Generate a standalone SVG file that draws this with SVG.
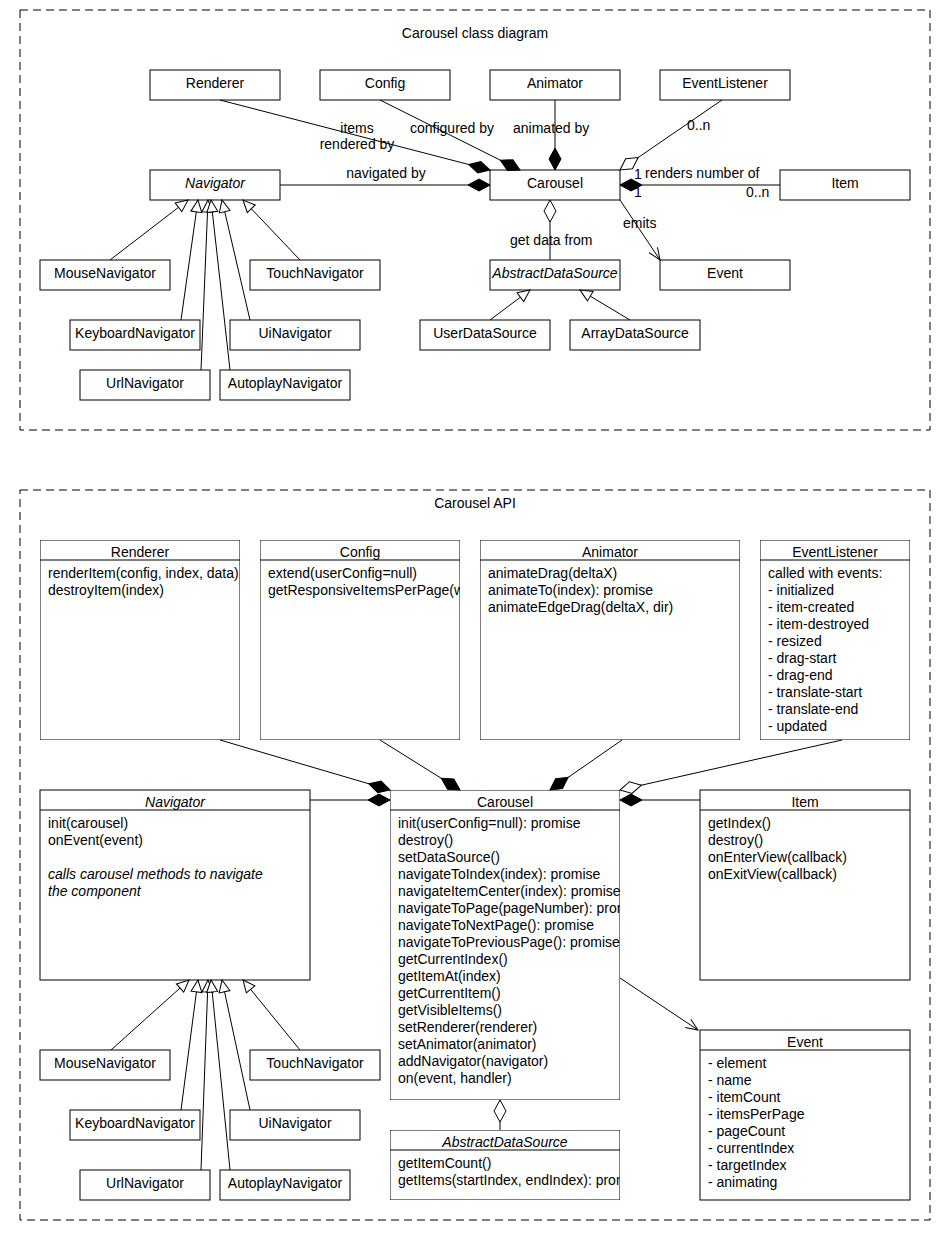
<svg xmlns="http://www.w3.org/2000/svg" width="950" height="1240" viewBox="0 0 950 1240">
<style>
text{font-family:"Liberation Sans",Arial,sans-serif;font-size:14px;fill:#000}
.c{text-anchor:middle}
.i{font-style:italic}
.box{fill:#fff;stroke:#000;stroke-width:1}
.frame{fill:none;stroke:#000;stroke-width:1;stroke-dasharray:8 5}
.ln{fill:none;stroke:#000;stroke-width:1}
.sep{stroke:#000;stroke-width:1}
</style>
<defs>
<marker id="dF" viewBox="-1 -1 24 14" markerWidth="24" markerHeight="14" refX="22" refY="6" orient="auto" markerUnits="userSpaceOnUse"><path d="M0,6 L11,0 L22,6 L11,12 Z" fill="#000" stroke="#000" stroke-width="1"/></marker>
<marker id="dH" viewBox="-1 -1 24 14" markerWidth="24" markerHeight="14" refX="22" refY="6" orient="auto" markerUnits="userSpaceOnUse"><path d="M0,6 L11,0 L22,6 L11,12 Z" fill="#fff" stroke="#000" stroke-width="1"/></marker>
<marker id="tri" viewBox="-1 -1 14 13" markerWidth="14" markerHeight="13" refX="12" refY="5.5" orient="auto" markerUnits="userSpaceOnUse"><path d="M0,0 L12,5.5 L0,11 Z" fill="#fff" stroke="#000" stroke-width="1"/></marker>
<marker id="arr" viewBox="-1 -1 14 12" markerWidth="14" markerHeight="12" refX="12" refY="5" orient="auto" markerUnits="userSpaceOnUse"><path d="M0,0 L12,5 L0,10" fill="none" stroke="#000" stroke-width="1"/></marker>
<clipPath id="cRen"><rect x="40" y="540" width="200" height="200"/></clipPath>
<clipPath id="cCfg"><rect x="260" y="540" width="200" height="200"/></clipPath>
<clipPath id="cAni"><rect x="480" y="540" width="260" height="200"/></clipPath>
<clipPath id="cEvl"><rect x="760" y="540" width="150" height="200"/></clipPath>
<clipPath id="cCar"><rect x="390" y="790" width="230" height="310"/></clipPath>
<clipPath id="cAds"><rect x="390" y="1130" width="230" height="70"/></clipPath>
</defs>

<!-- frames -->
<rect class="frame" x="20" y="10" width="910" height="420"/>
<text class="c" x="475" y="38">Carousel class diagram</text>
<rect class="frame" x="20" y="490" width="910" height="730"/>
<text class="c" x="475" y="508">Carousel API</text>

<!-- ===== Top diagram nodes ===== -->
<g id="t-renderer"><rect class="box" x="150" y="70" width="130" height="30"/><text class="c" x="215" y="88">Renderer</text></g>
<g id="t-config"><rect class="box" x="320" y="70" width="130" height="30"/><text class="c" x="385" y="88">Config</text></g>
<g id="t-animator"><rect class="box" x="490" y="70" width="130" height="30"/><text class="c" x="555" y="88">Animator</text></g>
<g id="t-eventlistener"><rect class="box" x="660" y="70" width="130" height="30"/><text class="c" x="725" y="88">EventListener</text></g>
<g id="t-navigator"><rect class="box" x="150" y="170" width="130" height="30"/><text class="c i" x="215" y="188">Navigator</text></g>
<g id="t-carousel"><rect class="box" x="490" y="170" width="130" height="30"/><text class="c" x="555" y="188">Carousel</text></g>
<g id="t-item"><rect class="box" x="780" y="170" width="130" height="30"/><text class="c" x="845" y="188">Item</text></g>
<g id="t-event"><rect class="box" x="660" y="260" width="130" height="30"/><text class="c" x="725" y="278">Event</text></g>
<g id="t-abstractdatasource"><rect class="box" x="490" y="260" width="130" height="30"/><text class="c i" x="555" y="278">AbstractDataSource</text></g>
<g id="t-userdatasource"><rect class="box" x="420" y="320" width="130" height="30"/><text class="c" x="485" y="338">UserDataSource</text></g>
<g id="t-arraydatasource"><rect class="box" x="570" y="320" width="130" height="30"/><text class="c" x="635" y="338">ArrayDataSource</text></g>
<g id="t-mousenavigator"><rect class="box" x="40" y="260" width="130" height="30"/><text class="c" x="105" y="278">MouseNavigator</text></g>
<g id="t-touchnavigator"><rect class="box" x="250" y="260" width="130" height="30"/><text class="c" x="315" y="278">TouchNavigator</text></g>
<g id="t-keyboardnavigator"><rect class="box" x="70" y="320" width="130" height="30"/><text class="c" x="135" y="338">KeyboardNavigator</text></g>
<g id="t-uinavigator"><rect class="box" x="230" y="320" width="130" height="30"/><text class="c" x="295" y="338">UiNavigator</text></g>
<g id="t-urlnavigator"><rect class="box" x="80" y="370" width="130" height="30"/><text class="c" x="145" y="388">UrlNavigator</text></g>
<g id="t-autoplaynavigator"><rect class="box" x="220" y="370" width="130" height="30"/><text class="c" x="285" y="388">AutoplayNavigator</text></g>

<!-- ===== Bottom diagram nodes ===== -->
<g id="b-renderer" clip-path="url(#cRen)">
<rect class="box" x="40" y="540" width="200" height="200"/><line class="sep" x1="40" y1="560" x2="240" y2="560"/>
<text class="c" x="140" y="557">Renderer</text>
<text x="48" y="578">renderItem(config, index, data)</text>
<text x="48" y="595">destroyItem(index)</text>
</g>
<g id="b-config" clip-path="url(#cCfg)">
<rect class="box" x="260" y="540" width="200" height="200"/><line class="sep" x1="260" y1="560" x2="460" y2="560"/>
<text class="c" x="360" y="557">Config</text>
<text x="268" y="578">extend(userConfig=null)</text>
<text x="268" y="595">getResponsiveItemsPerPage(width)</text>
</g>
<g id="b-animator" clip-path="url(#cAni)">
<rect class="box" x="480" y="540" width="260" height="200"/><line class="sep" x1="480" y1="560" x2="740" y2="560"/>
<text class="c" x="610" y="557">Animator</text>
<text x="488" y="578">animateDrag(deltaX)</text>
<text x="488" y="595">animateTo(index): promise</text>
<text x="488" y="612">animateEdgeDrag(deltaX, dir)</text>
</g>
<g id="b-eventlistener" clip-path="url(#cEvl)">
<rect class="box" x="760" y="540" width="150" height="200"/><line class="sep" x1="760" y1="560" x2="910" y2="560"/>
<text class="c" x="835" y="557">EventListener</text>
<text x="768" y="578">called with events:</text>
<text x="768" y="595">- initialized</text>
<text x="768" y="612">- item-created</text>
<text x="768" y="629">- item-destroyed</text>
<text x="768" y="646">- resized</text>
<text x="768" y="663">- drag-start</text>
<text x="768" y="680">- drag-end</text>
<text x="768" y="697">- translate-start</text>
<text x="768" y="714">- translate-end</text>
<text x="768" y="731">- updated</text>
</g>
<g id="b-navigator">
<rect class="box" x="40" y="790" width="270" height="190"/><line class="sep" x1="40" y1="810" x2="310" y2="810"/>
<text class="c i" x="175" y="807">Navigator</text>
<text x="48" y="828">init(carousel)</text>
<text x="48" y="845">onEvent(event)</text>
<text class="i" x="48" y="879">calls carousel methods to navigate</text>
<text class="i" x="48" y="896">the component</text>
</g>
<g id="b-carousel" clip-path="url(#cCar)">
<rect class="box" x="390" y="790" width="230" height="310"/><line class="sep" x1="390" y1="810" x2="620" y2="810"/>
<text class="c" x="505" y="807">Carousel</text>
<text x="398" y="828">init(userConfig=null): promise</text>
<text x="398" y="845">destroy()</text>
<text x="398" y="862">setDataSource()</text>
<text x="398" y="879">navigateToIndex(index): promise</text>
<text x="398" y="896">navigateItemCenter(index): promise</text>
<text x="398" y="913">navigateToPage(pageNumber): promise</text>
<text x="398" y="930">navigateToNextPage(): promise</text>
<text x="398" y="947">navigateToPreviousPage(): promise</text>
<text x="398" y="964">getCurrentIndex()</text>
<text x="398" y="981">getItemAt(index)</text>
<text x="398" y="998">getCurrentItem()</text>
<text x="398" y="1015">getVisibleItems()</text>
<text x="398" y="1032">setRenderer(renderer)</text>
<text x="398" y="1049">setAnimator(animator)</text>
<text x="398" y="1066">addNavigator(navigator)</text>
<text x="398" y="1083">on(event, handler)</text>
</g>
<g id="b-item">
<rect class="box" x="700" y="790" width="210" height="190"/><line class="sep" x1="700" y1="810" x2="910" y2="810"/>
<text class="c" x="805" y="807">Item</text>
<text x="708" y="828">getIndex()</text>
<text x="708" y="845">destroy()</text>
<text x="708" y="862">onEnterView(callback)</text>
<text x="708" y="879">onExitView(callback)</text>
</g>
<g id="b-event">
<rect class="box" x="700" y="1030" width="210" height="170"/><line class="sep" x1="700" y1="1050" x2="910" y2="1050"/>
<text class="c" x="805" y="1047">Event</text>
<text x="708" y="1068">- element</text>
<text x="708" y="1085">- name</text>
<text x="708" y="1102">- itemCount</text>
<text x="708" y="1119">- itemsPerPage</text>
<text x="708" y="1136">- pageCount</text>
<text x="708" y="1153">- currentIndex</text>
<text x="708" y="1170">- targetIndex</text>
<text x="708" y="1187">- animating</text>
</g>
<g id="b-abstractdatasource" clip-path="url(#cAds)">
<rect class="box" x="390" y="1130" width="230" height="70"/><line class="sep" x1="390" y1="1150" x2="620" y2="1150"/>
<text class="c i" x="505" y="1147">AbstractDataSource</text>
<text x="398" y="1168">getItemCount()</text>
<text x="398" y="1185">getItems(startIndex, endIndex): promise</text>
</g>
<g id="b-mousenavigator"><rect class="box" x="40" y="1050" width="130" height="30"/><text class="c" x="105" y="1068">MouseNavigator</text></g>
<g id="b-touchnavigator"><rect class="box" x="250" y="1050" width="130" height="30"/><text class="c" x="315" y="1068">TouchNavigator</text></g>
<g id="b-keyboardnavigator"><rect class="box" x="70" y="1110" width="130" height="30"/><text class="c" x="135" y="1128">KeyboardNavigator</text></g>
<g id="b-uinavigator"><rect class="box" x="230" y="1110" width="130" height="30"/><text class="c" x="295" y="1128">UiNavigator</text></g>
<g id="b-urlnavigator"><rect class="box" x="80" y="1170" width="130" height="30"/><text class="c" x="145" y="1188">UrlNavigator</text></g>
<g id="b-autoplaynavigator"><rect class="box" x="220" y="1170" width="130" height="30"/><text class="c" x="285" y="1188">AutoplayNavigator</text></g>

<!-- ===== Connectors ===== -->
<g id="connectors">
<!-- top -->
<path class="ln" d="M220,100 L490,170" marker-end="url(#dF)"/>
<path class="ln" d="M380,100 L520,170" marker-end="url(#dF)"/>
<path class="ln" d="M555,100 L555,170" marker-end="url(#dF)"/>
<path class="ln" d="M722,100 L620,170" marker-end="url(#dH)"/>
<path class="ln" d="M780,185 L620,185" marker-end="url(#dF)"/>
<path class="ln" d="M280,185 L490,185" marker-end="url(#dF)"/>
<path class="ln" d="M550,260 L550,200" marker-end="url(#dH)"/>
<path class="ln" d="M620,200 L660,260" marker-end="url(#arr)"/>
<path class="ln" d="M110,260 L188,200" marker-end="url(#tri)"/>
<path class="ln" d="M181,320 L198,200" marker-end="url(#tri)"/>
<path class="ln" d="M201,370 L208,200" marker-end="url(#tri)"/>
<path class="ln" d="M230,370 L211,200" marker-end="url(#tri)"/>
<path class="ln" d="M250,320 L222,200" marker-end="url(#tri)"/>
<path class="ln" d="M300,260 L243,200" marker-end="url(#tri)"/>
<path class="ln" d="M490,320 L530,290" marker-end="url(#tri)"/>
<path class="ln" d="M630,320 L580,290" marker-end="url(#tri)"/>
<text class="c" x="357" y="133">items</text>
<text class="c" x="357" y="149">rendered by</text>
<text x="410" y="133">configured by</text>
<text x="513" y="133">animated by</text>
<text x="687" y="130">0..n</text>
<text class="c" x="386" y="178">navigated by</text>
<text x="634" y="179">1</text>
<text x="645" y="178">renders number of</text>
<text x="634" y="197">1</text>
<text x="746" y="197">0..n</text>
<text x="510" y="245">get data from</text>
<text x="623" y="228">emits</text>
<!-- bottom -->
<path class="ln" d="M220,740 L390,790" marker-end="url(#dF)"/>
<path class="ln" d="M380,740 L460,790" marker-end="url(#dF)"/>
<path class="ln" d="M622,740 L550,790" marker-end="url(#dF)"/>
<path class="ln" d="M842,740 L620,790" marker-end="url(#dH)"/>
<path class="ln" d="M310,800 L390,800" marker-end="url(#dF)"/>
<path class="ln" d="M700,800 L620,800" marker-end="url(#dF)"/>
<path class="ln" d="M500,1130 L500,1100" marker-end="url(#dH)"/>
<path class="ln" d="M620,978 L698,1030" marker-end="url(#arr)"/>
<path class="ln" d="M111,1050 L189,980" marker-end="url(#tri)"/>
<path class="ln" d="M181,1110 L198,980" marker-end="url(#tri)"/>
<path class="ln" d="M201,1170 L208,980" marker-end="url(#tri)"/>
<path class="ln" d="M230,1170 L211,980" marker-end="url(#tri)"/>
<path class="ln" d="M250,1110 L222,980" marker-end="url(#tri)"/>
<path class="ln" d="M300,1050 L243,980" marker-end="url(#tri)"/>
</g>
</svg>
